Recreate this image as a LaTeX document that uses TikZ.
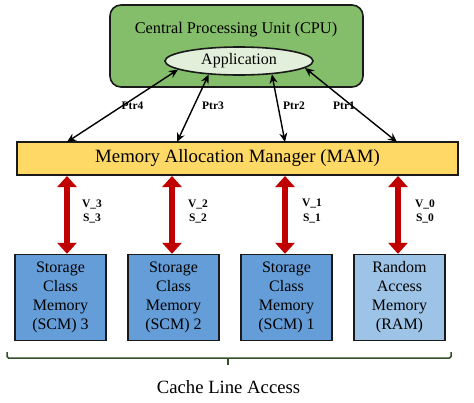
\documentclass[tikz,border=0pt]{standalone}
\usepackage{fontspec}
\setmainfont{Liberation Serif}
\usetikzlibrary{arrows.meta,shapes.geometric,calc}
\definecolor{cpugreen}{HTML}{84BE6A}
\definecolor{appgreen}{HTML}{E2EFDA}
\definecolor{mamyellow}{HTML}{FFD966}
\definecolor{scmblue}{HTML}{659DD8}
\definecolor{ramblue}{HTML}{9DC3E6}
\definecolor{redarrow}{HTML}{C00000}
\definecolor{bracegreen}{HTML}{34502A}
\definecolor{edgedark}{HTML}{1A1A1A}
\begin{document}
\begin{tikzpicture}[x=1pt,y=-1pt,
  memblock/.style={draw=edgedark,line width=1.4pt,minimum width=91pt,minimum height=86pt,inner sep=0pt,align=center,font=\fontsize{16}{19}\selectfont},
  ptrlabel/.style={font=\bfseries\fontsize{11.5}{13}\selectfont,inner sep=0pt},
  vslabel/.style={font=\bfseries\fontsize{11.5}{14}\selectfont,inner sep=0pt,align=center},
  ptrarrow/.style={{Stealth[length=9pt,width=8pt]}-{Stealth[length=9pt,width=8pt]},line width=1.4pt,black},
  redarr/.style={{Triangle[length=11pt,width=19pt]}-{Triangle[length=11pt,width=19pt]},line width=6pt,redarrow},
  bracket/.style={bracegreen,line width=1.5pt}
]
\useasboundingbox (0,0) rectangle (474,402);
% CPU
\node[draw=edgedark,line width=1.6pt,fill=cpugreen,rounded corners=11pt,minimum width=253pt,minimum height=82pt,inner sep=0pt] (cpu) at (236.5,46) {};
\node[font=\fontsize{16.3}{19}\selectfont,inner sep=0pt] (cputitle) at (236,30) {Central Processing Unit (CPU)};
\node[ellipse,draw=edgedark,line width=1.6pt,fill=appgreen,minimum width=148pt,minimum height=28pt,inner sep=0pt,font=\fontsize{16}{19}\selectfont] (app) at (239,61) {Application};
% MAM
\node[draw=edgedark,line width=1.4pt,fill=mamyellow,minimum width=441pt,minimum height=33pt,inner sep=0pt,font=\fontsize{18.8}{22}\selectfont] (mam) at (237.5,158.5) {Memory Allocation Manager (MAM)};
% memory blocks
\node[memblock,fill=scmblue] (scm3) at (60.5,297.5) {Storage\\Class\\Memory\\(SCM) 3};
\node[memblock,fill=scmblue] (scm2) at (173.5,297.5) {Storage\\Class\\Memory\\(SCM) 2};
\node[memblock,fill=scmblue] (scm1) at (286.5,297.5) {Storage\\Class\\Memory\\(SCM) 1};
\node[memblock,fill=ramblue] (ram) at (399.5,297.5) {Random\\Access\\Memory\\(RAM)};
% attachment points on MAM
\coordinate (t4) at (67,142);
\coordinate (t3) at (177,142);
\coordinate (t2) at (285,142);
\coordinate (t1) at (397,142);
\coordinate (b3) at (67,176);
\coordinate (b2) at (172,176);
\coordinate (b1) at (285,176);
\coordinate (b0) at (398,176);
% pointer arrows
\draw[ptrarrow] (app.188) -- (t4);
\draw[ptrarrow] (app.204) -- (t3);
\draw[ptrarrow] (app.338) -- (t2);
\draw[ptrarrow] (app.354) -- (t1);
\node[ptrlabel] (p4) at (132.5,105.5) {Ptr4};
\node[ptrlabel] (p3) at (213,105.5) {Ptr3};
\node[ptrlabel] (p2) at (294,105.5) {Ptr2};
\node[ptrlabel] (p1) at (344,105.5) {Ptr1};
% red arrows
\draw[redarr] (b3) -- (b3 |- scm3.north);
\draw[redarr] (b2) -- (b2 |- scm2.north);
\draw[redarr] (b1) -- (b1 |- scm1.north);
\draw[redarr] (b0) -- (b0 |- ram.north);
\node[vslabel] (vs3) at (92,211) {V\_3\\S\_3};
\node[vslabel] (vs2) at (198,211) {V\_2\\S\_2};
\node[vslabel] (vs1) at (312,211) {V\_1\\S\_1};
\node[vslabel] (vs0) at (425,211) {V\_0\\S\_0};
% bracket
\coordinate (brL) at (7,352);
\coordinate (brR) at (451,352);
\coordinate (brM) at (228,358);
\coordinate (brT) at (228,365);
\draw[bracket,rounded corners=1.5pt] (brL) -- (7,358) -- (451,358) -- (brR);
\draw[bracket] (brM) -- (brT);
\node[font=\fontsize{18.7}{22}\selectfont,inner sep=0pt] (cla) at (228.5,387) {Cache Line Access};
\end{tikzpicture}
\end{document}
